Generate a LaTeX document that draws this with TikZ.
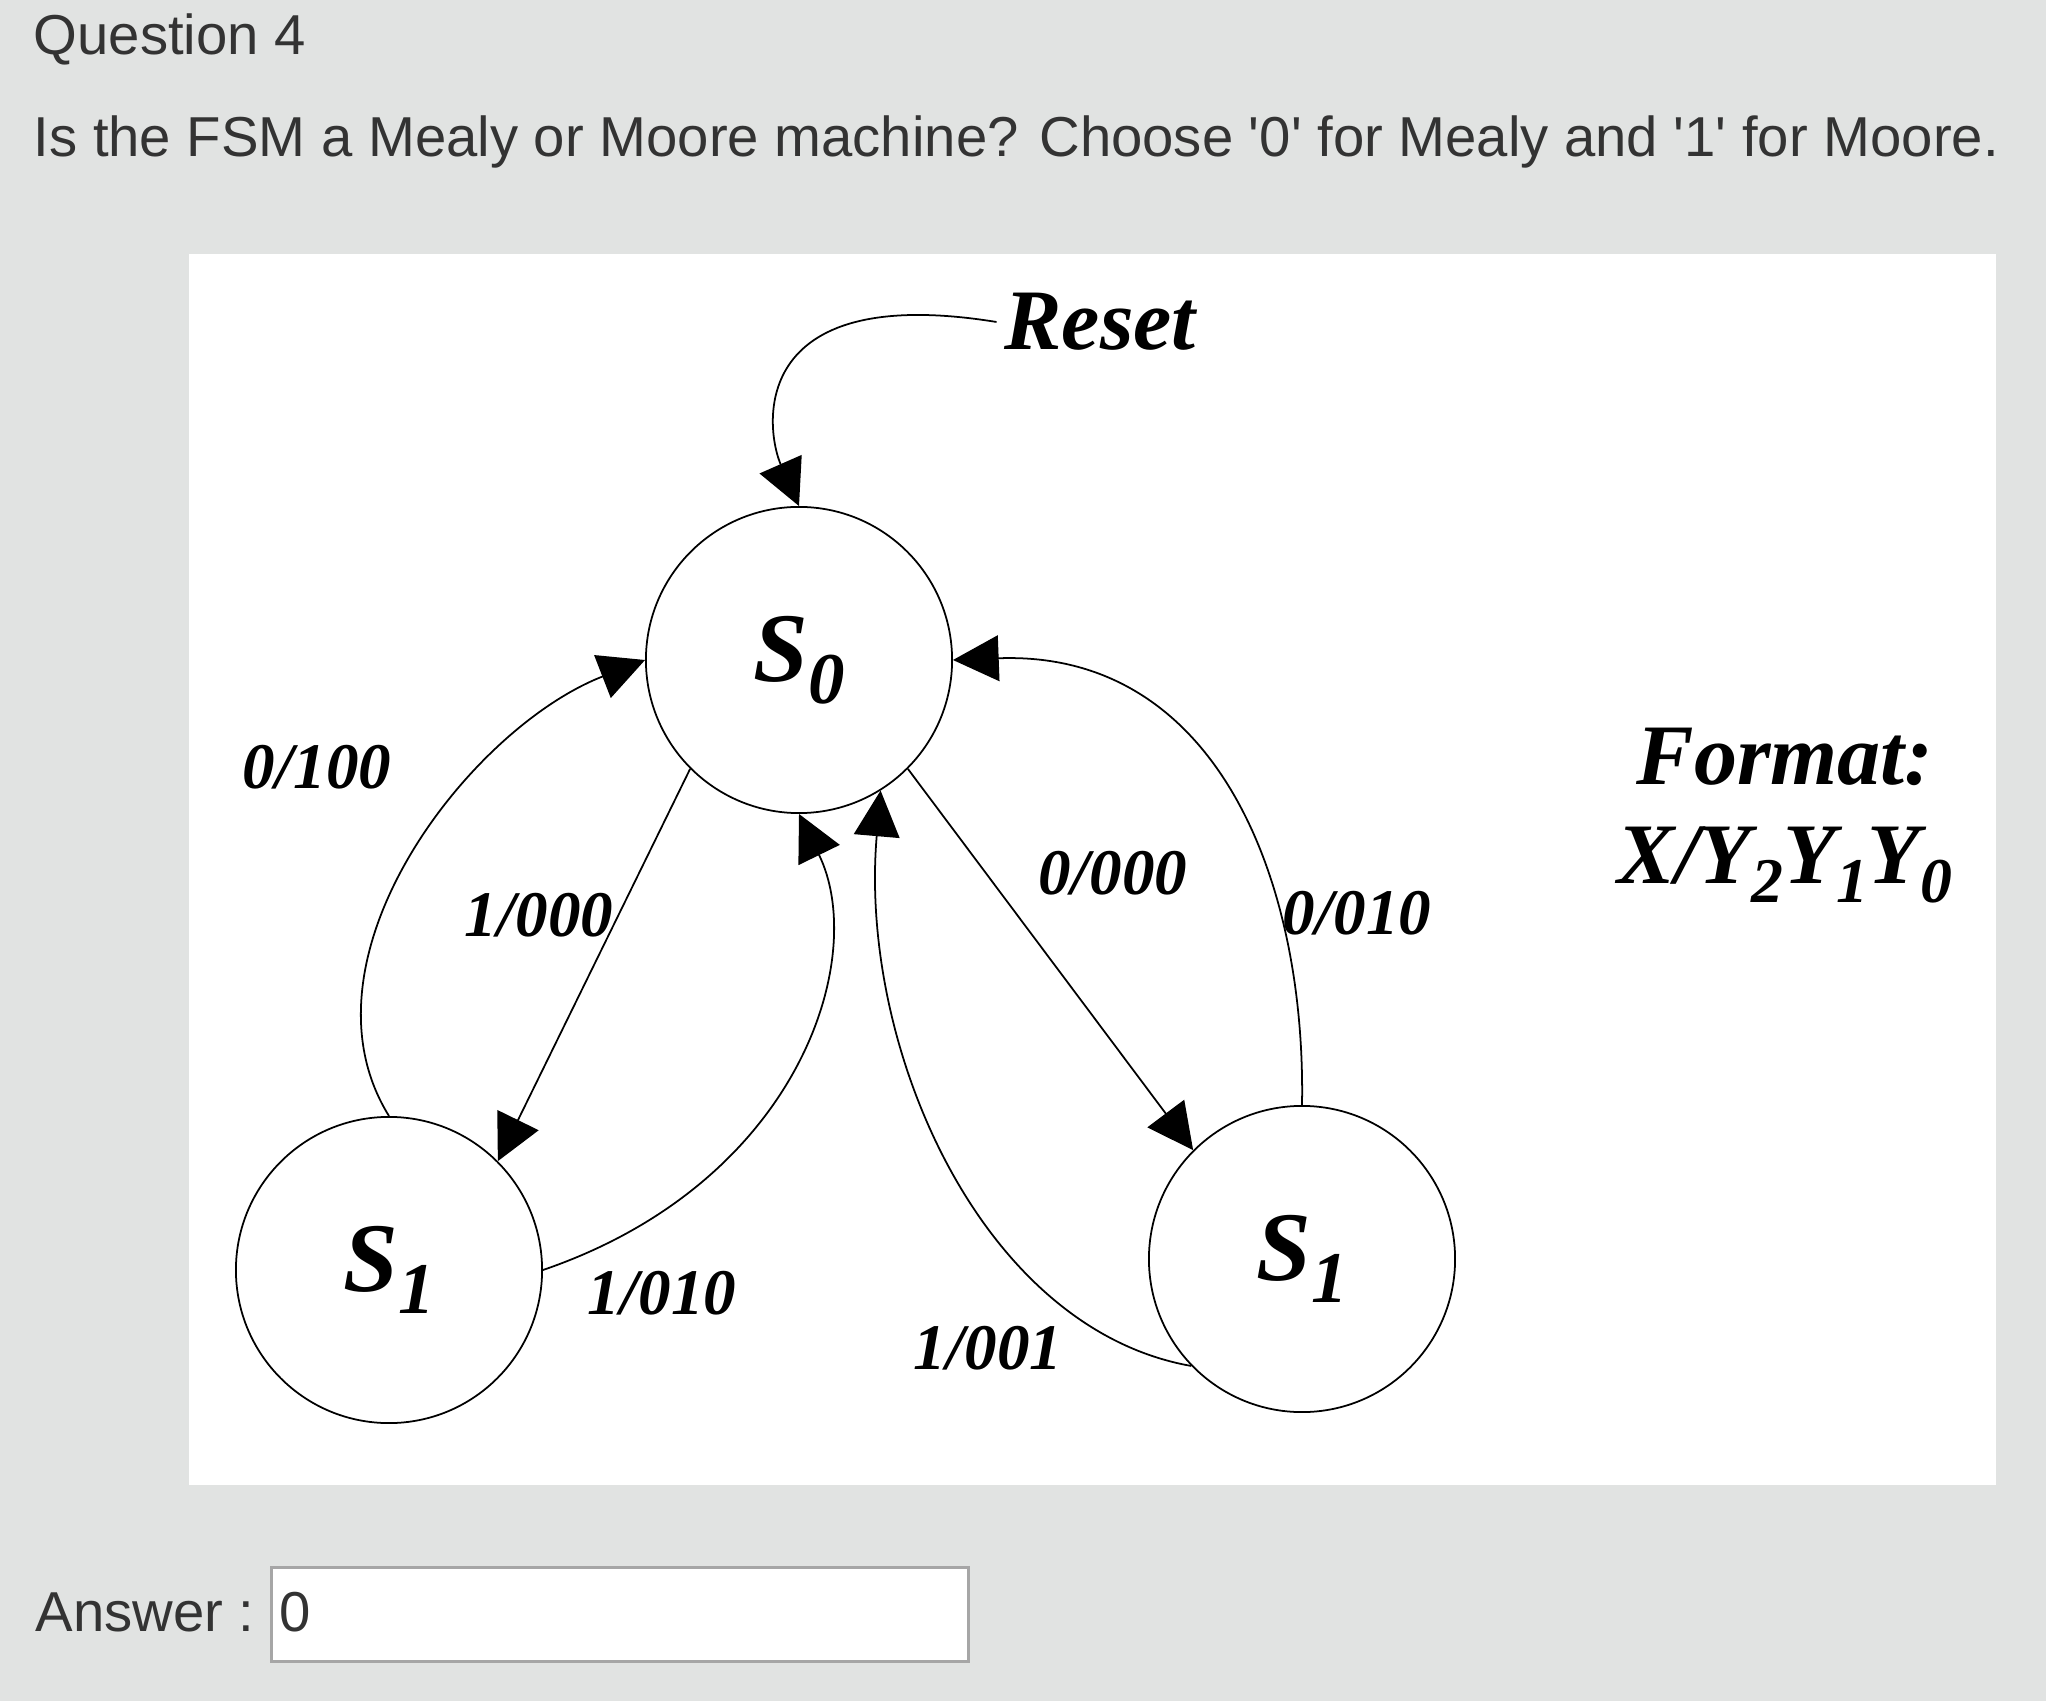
\documentclass[tikz,border=0pt]{standalone}
\usepackage{fontspec}
\setmainfont{Liberation Sans}
\newfontfamily\diagfont{Liberation Serif}
\usetikzlibrary{arrows.meta}
\definecolor{pagegray}{HTML}{E1E3E2}
\definecolor{webtext}{HTML}{333333}
\definecolor{boxline}{HTML}{A6A6A6}
\newcommand{\lowsub}[1]{\raisebox{-0.22em}{\scalebox{0.74}{#1}}}

\begin{document}
\begin{tikzpicture}[x=0.01cm, y=-0.01cm,
    state/.style={circle, draw, line width=0.5pt, minimum size=3.06cm, inner sep=0pt,
      font=\diagfont\bfseries\itshape\fontsize{28}{30}\selectfont},
    lbl/.style={inner sep=0pt, font=\diagfont\bfseries\itshape\fontsize{18.5}{20}\selectfont},
    big/.style={inner sep=2pt, font=\diagfont\bfseries\itshape\fontsize{24.5}{26}\selectfont},
    web/.style={inner sep=0pt, anchor=base west, text=webtext, font=\fontsize{16}{19}\selectfont},
    trans/.style={line width=0.5pt, -{Triangle[length=13pt, width=13pt]}}]
  \fill[pagegray] (0,0) rectangle (2046,1701);
  \fill[white] (189,254) rectangle (1996,1485);

  \node[web] (qtitle) at (33,55) {Question 4};
  \node[web] (qtext) at (33,157) {Is the FSM a Mealy or Moore machine? Choose \textquotesingle0\textquotesingle{} for Mealy and \textquotesingle1\textquotesingle{} for Moore.};
  \node[web] (anslabel) at (35,1631) {Answer :};
  \node[draw=boxline, fill=white, line width=0.8pt, anchor=north west, minimum width=6.97cm,
    minimum height=0.94cm] (ansbox) at (270,1566) {};
  \node[web] (ansval) at (279,1631) {0};

  \node[state] (s0) at (799,660) {S\lowsub{0}};
  \node[state] (s1l) at (389,1270) {S\lowsub{1}};
  \node[state] (s1r) at (1302,1259) {S\lowsub{1}};

  \node[big] (reset) at (1100,322) {Reset};
  \node[big] (fmt) at (1785,757) {Format:};
  \node[big] (fmtbits) at (1785,865) {X/Y\lowsub{2}Y\lowsub{1}Y\lowsub{0}};

  \draw[trans] (reset.west) .. controls +(-252,-41) and +(-33,-75) .. (s0.90);
  \draw[trans] (s1l.90) .. controls +(-98,-158) and +(-175,68) .. (s0.180);
  \draw[trans] (s0.225) -- (s1l.45);
  \draw[trans] (s1l.0) .. controls +(257,-88) and +(70,143) .. (s0.270);
  \draw[trans] (s1r.224) .. controls +(-210,-37) and +(-22,257) .. (s0.302);
  \draw[trans] (s0.315) -- (s1r.135);
  \draw[trans] (s1r.90) .. controls +(4,-226) and +(263,-10) .. (s0.0);

  \node[lbl] (l0100) at (317,767) {0/100};
  \node[lbl] (l1000) at (539,915) {1/000};
  \node[lbl] (l0000) at (1113,873) {0/000};
  \node[lbl] (l0010) at (1357,913) {0/010};
  \node[lbl] (l1010) at (662,1293) {1/010};
  \node[lbl] (l1001) at (988,1348) {1/001};
\end{tikzpicture}
\end{document}
